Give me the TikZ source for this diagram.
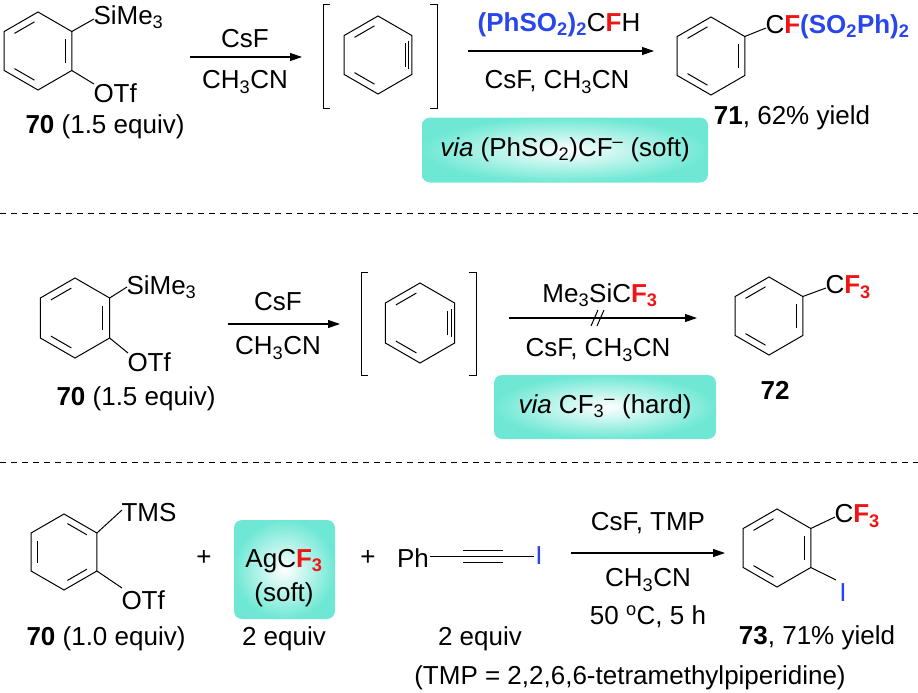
\documentclass[tikz,border=0pt]{standalone}
\usepackage{fontspec}
\setmainfont{Liberation Sans}
\usetikzlibrary{arrows.meta,calc}
\definecolor{cblue}{RGB}{40,70,235}
\definecolor{cred}{RGB}{240,20,20}
\definecolor{caqua}{RGB}{110,232,212}
\newcommand\rF[1]{\textcolor{cred}{\textbf{#1}}}
\newcommand\bB[1]{\textcolor{cblue}{\textbf{#1}}}
\newcommand\benz[4]{%
  \foreach \a in {30,90,...,330}{%
    \coordinate (#1\a) at ({#2+#4*cos(\a)},{#3-#4*sin(\a)});
    \coordinate (#1i\a) at ({#2+0.8*#4*cos(\a)},{#3-0.8*#4*sin(\a)});}
  \draw (#130)--(#190)--(#1150)--(#1210)--(#1270)--(#1330)--cycle;}
\newcommand\dbl[3]{\draw ($(#1i#2)!0.13!(#1i#3)$) -- ($(#1i#3)!0.13!(#1i#2)$);}
\newcommand\patA[1]{\dbl{#1}{330}{30}\dbl{#1}{90}{150}\dbl{#1}{210}{270}}
\newcommand\patB[1]{\dbl{#1}{30}{90}\dbl{#1}{150}{210}\dbl{#1}{270}{330}}
\begin{document}
\begin{tikzpicture}[x=1pt,y=-1pt,line width=1pt,
  every node/.style={font=\fontsize{26}{30}\selectfont,inner sep=1pt},
  arr/.style={-{Triangle[length=12pt,width=8pt]},line width=1.1pt},
  sep/.style={line width=0.8pt,dash pattern=on 6pt off 5pt},
  via/.style={rounded corners=8pt,inner color=white,outer color=caqua,draw=none,
    minimum width=#1,inner sep=0pt},
  brk/.style={line width=1pt}]
\useasboundingbox (0,0) rectangle (918,693);
% ---------- row 1
\benz{a}{38}{51}{39}\patA{a}
\coordinate (a1) at (94,19); \draw (a30)--(a1);
\node[anchor=west] (t1) at (92,17) {SiMe\textsubscript{3}};
\coordinate (a2) at (94,84); \draw (a330)--(a2);
\node[anchor=west] (o1) at (92,93) {OTf};
\node (l1) at (105,127) {\textbf{70} (1.5 equiv)};
\coordinate (r1s) at (190,57); \coordinate (r1e) at (302,57);
\draw[arr] (r1s)--(r1e);
\node (c1) at (245,39) {CsF};
\node (c2) at (245,82) {CH\textsubscript{3}CN};
\draw[brk] (330,5)--(323,5)--(323,108)--(330,108);
\draw[brk] (430,5)--(437,5)--(437,108)--(430,108);
\benz{b}{378}{55}{39}\dbl{b}{90}{150}\dbl{b}{210}{270}
\draw ($(bi330)!0.13!(bi30)$)--($(bi30)!0.13!(bi330)$);
\draw ({378+0.9*39*cos(30)},{55+0.35*39})--({378+0.9*39*cos(30)},{55-0.35*39});
\coordinate (r2s) at (468,51); \coordinate (r2e) at (654,51);
\draw[arr] (r2s)--(r2e);
\node (c3) at (559,25) {\bB{(PhSO\textsubscript{2})\textsubscript{2}}C\rF{F}H};
\node (c4) at (557,82) {CsF, CH\textsubscript{3}CN};
\node[via=286pt,minimum height=65pt] (v1) at (565,150) {\textit{via} (PhSO\textsubscript{2})CF\textsuperscript{–} (soft)};
\benz{p}{711}{56}{39}\patA{p}
\coordinate (p1) at (766,28); \draw (p30)--(p1);
\node[anchor=west] (t2) at (764,27) {C\rF{F}\bB{(SO\textsubscript{2}Ph)\textsubscript{2}}};
\node (l2) at (792,118) {\textbf{71}, 62\% yield};
\draw[sep] (0,213)--(918,213);
% ---------- row 2
\benz{c}{75}{318}{40}\patA{c}
\coordinate (c1b) at (127,287); \draw (c30)--(c1b);
\node[anchor=west] (t3) at (125,287) {SiMe\textsubscript{3}};
\coordinate (c2b) at (128,353); \draw (c330)--(c2b);
\node[anchor=west] (o2) at (126,362) {OTf};
\node (l3) at (136,399) {\textbf{70} (1.5 equiv)};
\coordinate (r3s) at (228,324); \coordinate (r3e) at (340,324);
\draw[arr] (r3s)--(r3e);
\node (c5) at (278,302) {CsF};
\node (c6) at (278,348) {CH\textsubscript{3}CN};
\draw[brk] (368,272)--(361,272)--(361,375)--(368,375);
\draw[brk] (469,272)--(476,272)--(476,375)--(469,375);
\benz{d}{420}{323}{40}\dbl{d}{90}{150}\dbl{d}{210}{270}
\draw ($(di330)!0.13!(di30)$)--($(di30)!0.13!(di330)$);
\draw ({420+0.9*40*cos(30)},{323+0.35*40})--({420+0.9*40*cos(30)},{323-0.35*40});
\coordinate (r4s) at (509,318); \coordinate (r4e) at (697,318);
\draw[arr] (r4s)--(r4e);
\draw (591,326)--(598,310) (597,326)--(604,310);
\node (c7) at (600,295) {Me\textsubscript{3}SiC\rF{F\textsubscript{3}}};
\node (c8) at (598,350) {CsF, CH\textsubscript{3}CN};
\node[via=222pt,minimum height=64pt] (v2) at (605,407) {\textit{via} CF\textsubscript{3}\textsuperscript{–} (hard)};
\benz{e}{769}{316}{39}\patA{e}
\coordinate (e1) at (826,288); \draw (e30)--(e1);
\node[anchor=west] (t4) at (824,287) {C\rF{F\textsubscript{3}}};
\node (l4) at (775,390) {\textbf{72}};
\draw[sep] (0,462)--(918,462);
% ---------- row 3
\benz{f}{64}{552}{38}\patB{f}
\coordinate (f1) at (122,510); \draw (f30)--(f1);
\node[anchor=west] (t5) at (120,513) {TMS};
\coordinate (f2) at (122,588); \draw (f330)--(f2);
\node[anchor=west] (o3) at (120,600) {OTf};
\node (l5) at (106,639) {\textbf{70} (1.0 equiv)};
\node (pl1) at (204,558) {+};
\node[via=101pt,minimum height=99pt] (v3) at (284.5,569.5) {};
\node (ag) at (284,561) {AgC\rF{F\textsubscript{3}}};
\node (so) at (284,595) {(soft)};
\node (l6) at (284,639) {2 equiv};
\node (pl2) at (368,558) {+};
\node (ph) at (413,558) {Ph};
\coordinate (y1) at (463,556); \coordinate (y2) at (503,556);
\node (io) at (539,556) {\textcolor{cblue}{I}};
\draw (ph.east|-y1)--(y1) (y2)--(io.west);
\draw (y1)--(y2) ($(y1)+(0,-6)$)--($(y2)+(0,-6)$) ($(y1)+(0,6)$)--($(y2)+(0,6)$);
\node (l7) at (480,639) {2 equiv};
\node (l8) at (630,678) {(TMP = 2,2,6,6-tetramethylpiperidine)};
\coordinate (r5s) at (571,553); \coordinate (r5e) at (725,553);
\draw[arr] (r5s)--(r5e);
\node (c9) at (648,523) {CsF, TMP};
\node (c10) at (648,580) {CH\textsubscript{3}CN};
\node (c11) at (648,617) {50 \textsuperscript{o}C, 5 h};
\benz{g}{777}{548}{39}\patA{g}
\coordinate (g1) at (835,517); \draw (g30)--(g1);
\node[anchor=west] (t6) at (833,516) {C\rF{F\textsubscript{3}}};
\coordinate (g2) at (836,580); \draw (g330)--(g2);
\node (io2) at (843,593) {\textcolor{cblue}{I}};
\node (l9) at (817,638) {\textbf{73}, 71\% yield};
\end{tikzpicture}
\end{document}
